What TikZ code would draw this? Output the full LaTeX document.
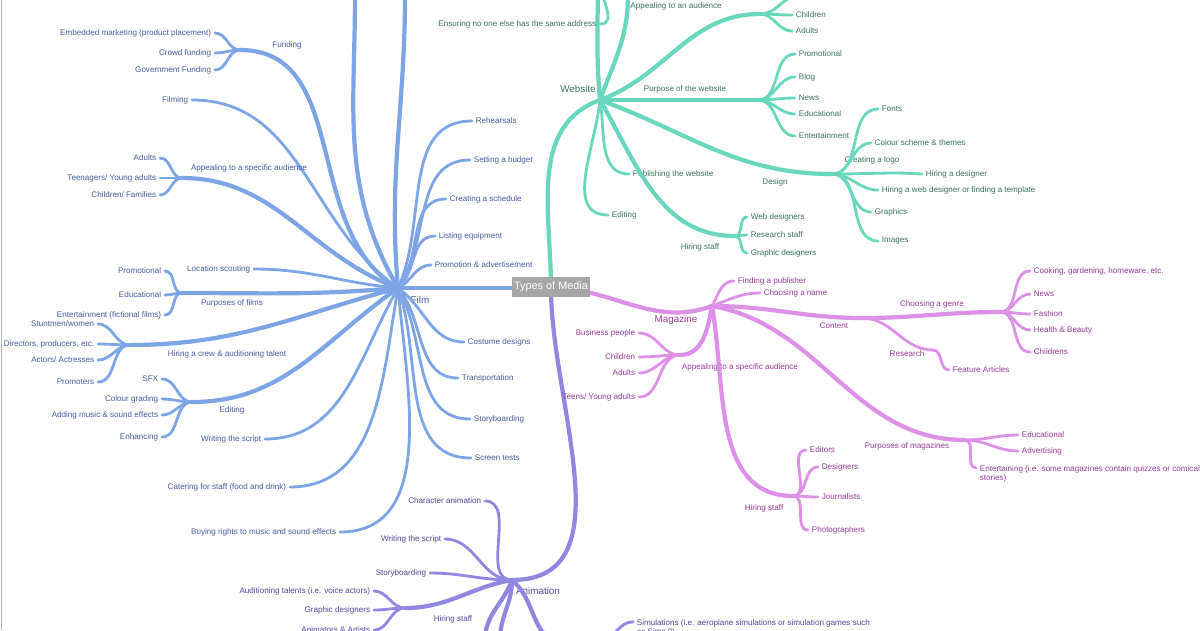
\documentclass[tikz,border=0pt]{standalone}
\usepackage{fontspec}
\setmainfont{Liberation Sans}
\definecolor{filmc}{RGB}{125,165,230}
\definecolor{filmt}{RGB}{70,90,160}
\definecolor{webc}{RGB}{105,215,190}
\definecolor{webt}{RGB}{55,115,100}
\definecolor{magc}{RGB}{220,145,230}
\definecolor{magt}{RGB}{150,60,150}
\definecolor{anic}{RGB}{145,135,225}
\definecolor{anit}{RGB}{80,70,160}
\tikzset{
  leaf/.style={font=\fontsize{4.6}{5.4}\selectfont,inner sep=2pt},
  head/.style={font=\fontsize{5.6}{6.5}\selectfont,inner sep=1pt},
  fln/.style={draw=filmc,line width=1.6pt,line cap=round},
  wln/.style={draw=webc,line width=1.6pt,line cap=round},
  mln/.style={draw=magc,line width=1.6pt,line cap=round},
  aln/.style={draw=anic,line width=1.6pt,line cap=round},
  trunk/.style={line width=2.4pt}
}
\begin{document}
\begin{tikzpicture}[x=0.02cm,y=-0.02cm]
\useasboundingbox (0,0) rectangle (1200,630);
\draw[gray!60] (1,0) -- (1,630);

% hubs
\coordinate (film) at (398,288);
\coordinate (web) at (600,100);
\coordinate (mag) at (712,306);
\coordinate (ani) at (512,580);

% trunks
\draw[fln,trunk] (551,288) -- (film);
\draw[wln,trunk] (551,288) to[out=90,in=200] (web);
\draw[mln,trunk] (551,288) to[out=0,in=200] (mag);
\draw[aln,trunk] (551,288) to[out=-90,in=0] (ani);
\node[fill=gray!70,text=white,font=\fontsize{6.2}{7}\selectfont,minimum width=1.56cm,minimum height=0.4cm,inner sep=1pt] (media) at (551,287) {Types of Media};

% film
\node[head,text=filmt] (filml) at (420,300) {Film};
\coordinate (ftop1) at (355,-5);
\coordinate (ftop2) at (405,-5);
\draw[fln,trunk] (film) to[out=120,in=-90] (ftop1);
\draw[fln,trunk] (film) to[out=95,in=-90] (ftop2);

\coordinate (fund) at (240,50);
\node[leaf,text=filmt] (fundl) at (287,45) {Funding};
\draw[fln,trunk] (film) to[out=150,in=0] (fund);
\foreach \n/\y/\t in {a/33/{Embedded marketing (product placement)},b/53/{Crowd funding},c/70/{Government Funding}}{
  \node[leaf,text=filmt,anchor=east] (fund-\n) at (215,\y) {\t};
  \draw[fln] (fund) to[out=180,in=0] (fund-\n.east);
}
\node[leaf,text=filmt,anchor=east] (filming) at (192,100) {Filming};
\draw[fln] (film) to[out=145,in=0] (filming.east);

\coordinate (aud) at (182,178);
\node[leaf,text=filmt] (audl) at (249,168) {Appealing to a specific audience};
\draw[fln,trunk] (film) to[out=160,in=0] (aud);
\foreach \n/\y/\t in {a/158/{Adults},b/178/{Teenagers/ Young adults},c/195/{Children/ Families}}{
  \node[leaf,text=filmt,anchor=east] (aud-\n) at (160,\y) {\t};
  \draw[fln] (aud) to[out=180,in=0] (aud-\n.east);
}
\node[leaf,text=filmt,anchor=east] (scout) at (254,269) {Location scouting};
\draw[fln] (film) to[out=175,in=0] (scout.east);

\coordinate (purp) at (182,293);
\node[leaf,text=filmt] (purpl) at (232,303) {Purposes of films};
\draw[fln,trunk] (film) to[out=185,in=0] (purp);
\foreach \n/\y/\t in {a/271/{Promotional},b/295/{Educational},c/315/{Entertainment (fictional films)}}{
  \node[leaf,text=filmt,anchor=east] (purp-\n) at (165,\y) {\t};
  \draw[fln] (purp) to[out=180,in=0] (purp-\n.east);
}
\coordinate (crew) at (130,345);
\node[leaf,text=filmt] (crewl) at (227,354) {Hiring a crew \& auditioning talent};
\draw[fln,trunk] (film) to[out=195,in=0] (crew);
\foreach \n/\y/\t in {a/324/{Stuntmen/women},b/344/{Directors, producers, etc.},c/360/{Actors/ Actresses},d/382/{Promoters}}{
  \node[leaf,text=filmt,anchor=east] (crew-\n) at (98,\y) {\t};
  \draw[fln] (crew) to[out=180,in=0] (crew-\n.east);
}
\coordinate (edit) at (192,402);
\node[leaf,text=filmt] (editl) at (232,410) {Editing};
\draw[fln,trunk] (film) to[out=215,in=0] (edit);
\foreach \n/\y/\t in {a/379/{SFX},b/399/{Colour grading},c/415/{Adding music \& sound effects},d/437/{Enhancing}}{
  \node[leaf,text=filmt,anchor=east] (edit-\n) at (162,\y) {\t};
  \draw[fln] (edit) to[out=180,in=0] (edit-\n.east);
}
\node[leaf,text=filmt,anchor=east] (fscript) at (265,439) {Writing the script};
\draw[fln] (film) to[out=240,in=0] (fscript.east);
\node[leaf,text=filmt,anchor=east] (cater) at (290,487) {Catering for staff (food and drink)};
\draw[fln] (film) to[out=260,in=0] (cater.east);
\node[leaf,text=filmt,anchor=east] (rights) at (340,532) {Buying rights to music and sound effects};
\draw[fln] (film) to[out=275,in=0] (rights.east);

\foreach \n/\x/\y/\a/\t in {a/472/121/65/{Rehearsals},b/470/160/55/{Setting a budget},c/446/199/50/{Creating a schedule},d/435/236/40/{Listing equipment},e/431/265/25/{Promotion \& advertisement},f/464/342/-35/{Costume designs},g/458/378/-50/{Transportation},h/470/419/-60/{Storyboarding},i/471/458/-70/{Screen tests}}{
  \node[leaf,text=filmt,anchor=west] (fr-\n) at (\x,\y) {\t};
  \draw[fln] (film) to[out=\a,in=180] (fr-\n.west);
}

% website
\node[head,text=webt] (webl) at (578,89) {Website};
\coordinate (wtop) at (598,-25);
\draw[wln,trunk] (web) to[out=95,in=-90] (wtop);
\draw[wln,trunk] (web) to[out=70,in=-90] (628,-5);
\node[leaf,text=webt,anchor=east] (ensure) at (600,24) {Ensuring no one else has the same address};
\draw[wln] (wtop) to[out=-90,in=0] (ensure.east);

\coordinate (waud) at (760,14);
\node[leaf,text=webt] (waudl) at (676,6) {Appealing to an audience};
\draw[wln,trunk] (web) to[out=20,in=180] (waud);
\draw[wln] (waud) to[out=0,in=200] (795,-5);
\foreach \n/\y/\t in {a/15/{Children},b/31/{Adults}}{
  \node[leaf,text=webt,anchor=west] (waud-\n) at (792,\y) {\t};
  \draw[wln] (waud) to[out=0,in=180] (waud-\n.west);
}
\coordinate (wpur) at (758,100);
\node[leaf,text=webt] (wpurl) at (685,89) {Purpose of the website};
\draw[wln,trunk] (web) to[out=0,in=180] (wpur);
\foreach \n/\y/\t in {a/54/{Promotional},b/77/{Blog},c/98/{News},d/114/{Educational},e/136/{Entertainment}}{
  \node[leaf,text=webt,anchor=west] (wpur-\n) at (795,\y) {\t};
  \draw[wln] (wpur) to[out=0,in=180] (wpur-\n.west);
}
\coordinate (des) at (832,174);
\node[leaf,text=webt] (desl) at (775,182) {Design};
\draw[wln,trunk] (web) to[out=-20,in=180] (des);
\coordinate (logo) at (900,173);
\node[leaf,text=webt] (logol) at (872,160) {Creating a logo};
\draw[wln] (des) to[out=0,in=180] (logo);
\node[leaf,text=webt,anchor=west] (hdes) at (922,174) {Hiring a designer};
\draw[wln] (logo) -- (hdes.west);
\foreach \n/\x/\y/\t in {a/878/109/{Fonts},b/871/143/{Colour scheme \& themes},c/878/190/{Hiring a web designer or finding a template},d/871/212/{Graphics},e/878/241/{Images}}{
  \node[leaf,text=webt,anchor=west] (des-\n) at (\x,\y) {\t};
  \draw[wln] (des) to[out=0,in=180] (des-\n.west);
}
\node[leaf,text=webt,anchor=west] (publish) at (629,174) {Publishing the website};
\draw[wln] (web) to[out=-80,in=180] (publish.west);
\node[leaf,text=webt,anchor=west] (wedit) at (608,215) {Editing};
\draw[wln] (web) to[out=-95,in=180] (wedit.west);
\coordinate (wstaff) at (735,236);
\node[leaf,text=webt] (wstaffl) at (700,247) {Hiring staff};
\draw[wln,trunk] (web) to[out=-60,in=180] (wstaff);
\foreach \n/\y/\t in {a/217/{Web designers},b/235/{Research staff},c/253/{Graphic designers}}{
  \node[leaf,text=webt,anchor=west] (wstaff-\n) at (747,\y) {\t};
  \draw[wln] (wstaff) to[out=0,in=180] (wstaff-\n.west);
}

% magazine
\node[head,text=magt] (magl) at (676,320) {Magazine};
\node[leaf,text=magt,anchor=west] (publ) at (734,281) {Finding a publisher};
\draw[mln] (mag) to[out=60,in=180] (publ.west);
\node[leaf,text=magt,anchor=west] (mname) at (760,293) {Choosing a name};
\draw[mln] (mag) to[out=20,in=180] (mname.west);
\coordinate (cont) at (862,318);
\node[leaf,text=magt] (contl) at (834,326) {Content};
\draw[mln,trunk] (mag) to[out=0,in=180] (cont);
\coordinate (genre) at (1000,312);
\node[leaf,text=magt] (genrel) at (932,304) {Choosing a genre};
\draw[mln,trunk] (cont) to[out=0,in=180] (genre);
\foreach \n/\y/\t in {a/271/{Cooking, gardening, homeware, etc.},b/294/{News},c/314/{Fashion},d/330/{Health \& Beauty},e/352/{Childrens}}{
  \node[leaf,text=magt,anchor=west] (genre-\n) at (1030,\y) {\t};
  \draw[mln] (genre) to[out=0,in=180] (genre-\n.west);
}
\coordinate (resr) at (933,350);
\node[leaf,text=magt] (resrl) at (907,354) {Research};
\draw[mln] (cont) to[out=0,in=180] (resr);
\node[leaf,text=magt,anchor=west] (feat) at (949,370) {Feature Articles};
\draw[mln] (resr) to[out=0,in=180] (feat.west);
\coordinate (maud) at (680,355);
\node[leaf,text=magt] (maudl) at (740,367) {Appealing to a specific audience};
\draw[mln,trunk] (mag) to[out=-100,in=0] (maud);
\foreach \n/\y/\t in {a/333/{Business people},b/357/{Children},c/373/{Adults},d/397/{Teens/ Young adults}}{
  \node[leaf,text=magt,anchor=east] (maud-\n) at (639,\y) {\t};
  \draw[mln] (maud) to[out=180,in=0] (maud-\n.east);
}
\coordinate (mpur) at (965,440);
\node[leaf,text=magt] (mpurl) at (907,446) {Purposes of magazines};
\draw[mln,trunk] (mag) to[out=-10,in=180] (mpur);
\foreach \n/\y/\t in {a/435/{Educational},b/451/{Advertising}}{
  \node[leaf,text=magt,anchor=west] (mpur-\n) at (1018,\y) {\t};
  \draw[mln] (mpur) to[out=0,in=180] (mpur-\n.west);
}
\node[leaf,text=magt,anchor=west,align=left] (mpur-c) at (976,474) {Entertaining (i.e. some magazines contain quizzes or comical\\stories)};
\draw[mln] (mpur) to[out=0,in=180] ([yshift=-3.5pt]mpur-c.north west);
\coordinate (mstaff) at (793,496);
\node[leaf,text=magt] (mstaffl) at (764,508) {Hiring staff};
\draw[mln,trunk] (mag) to[out=-80,in=180] (mstaff);
\foreach \n/\x/\y/\t in {a/806/450/{Editors},b/818/467/{Designers},c/818/497/{Journalists},d/808/530/{Photographers}}{
  \node[leaf,text=magt,anchor=west] (mstaff-\n) at (\x,\y) {\t};
  \draw[mln] (mstaff) to[out=0,in=180] (mstaff-\n.west);
}

% animation
\node[head,text=anit] (anil) at (538,591) {Animation};
\foreach \n/\x/\y/\t in {a/485/501/{Character animation},b/445/539/{Writing the script},c/430/573/{Storyboarding}}{
  \node[leaf,text=anit,anchor=east] (ani-\n) at (\x,\y) {\t};
  \draw[aln] (ani) to[out=180,in=0] (ani-\n.east);
}
\coordinate (astaff) at (405,608);
\node[leaf,text=anit] (astaffl) at (453,619) {Hiring staff};
\draw[aln,trunk] (ani) to[out=190,in=0] (astaff);
\foreach \n/\y/\t in {a/591/{Auditioning talents (i.e. voice actors)},b/610/{Graphic designers},c/630/{Animators \& Artists}}{
  \node[leaf,text=anit,anchor=east] (astaff-\n) at (374,\y) {\t};
  \draw[aln] (astaff) to[out=180,in=0] (astaff-\n.east);
}
\draw[aln,trunk] (ani) to[out=250,in=90] (485,640);
\draw[aln,trunk] (ani) to[out=270,in=90] (500,640);
\draw[aln,trunk] (ani) to[out=-40,in=160] (560,645);
\coordinate (sim) at (600,640);
\node[leaf,text=anit,anchor=west,align=left] (simt) at (633,628) {Simulations (i.e. aeroplane simulations or simulation games such\\as Sims 2)};
\draw[aln] (sim) to[out=0,in=180] ([yshift=-3.5pt]simt.north west);
\end{tikzpicture}
\end{document}
